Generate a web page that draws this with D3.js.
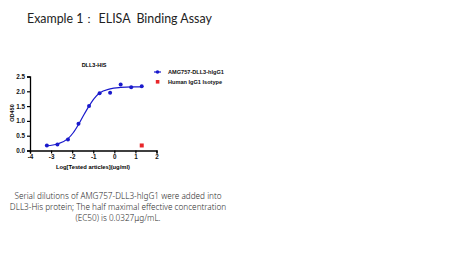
<!DOCTYPE html>
<html>
<head>
<meta charset="utf-8">
<script src="https://cdn.jsdelivr.net/npm/d3@7"></script>
<style>
  html, body { margin: 0; padding: 0; background: #fff; }
  svg { display: block; }
</style>
</head>
<body>
<div id="root"></div>
<script>
// data
var logConc = [-3.2, -2.7, -2.2, -1.7, -1.2, -0.7, -0.2, 0.3, 0.8, 1.3];
var od450 = [0.17, 0.20, 0.37, 0.90, 1.50, 1.93, 1.95, 2.23, 2.14, 2.17];
var curveX = [-3.2, -2.7, -2.2, -1.95, -1.7, -1.45, -1.2, -0.95, -0.7, -0.2, 0.3, 0.8, 1.3];
var curveY = [0.16, 0.22, 0.40, 0.60, 0.88, 1.20, 1.50, 1.76, 1.94, 2.08, 2.13, 2.15, 2.15];
var isoX = [1.3];
var isoY = [0.17];
var xTicks = [-4, -3, -2, -1, 0, 1, 2];
var yTicks = [0, 0.5, 1, 1.5, 2, 2.5];
var seriesNames = ['AMG757-DLL3-hlgG1', 'Human IgG1 Isotype'];
var captionLines = [
  'Serial dilutions of AMG757-DLL3-hlgG1 were added into',
  'DLL3-His protein; The half maximal effective concentration',
  '(EC50) is 0.0327\u03bcg/mL.'
];

var w = 474, h = 266;
var blue = '#1a1acc', red = '#e8262a';
var svg = d3.select('#root').append('svg')
  .attr('width', w)
  .attr('height', h);

// page title
svg.append('text')
  .attr('x', 27)
  .attr('y', 23)
  .attr('font-family', 'Lato, "Open Sans", sans-serif')
  .attr('font-size', 12.4)
  .attr('fill', '#222')
  .attr('xml:space', 'preserve')
  .text('Example 1\uff1a ELISA  Binding Assay');

var x = d3.scaleLinear().domain([-4, 2]).range([30, 156.5]);
var y = d3.scaleLinear().domain([0, 2.5]).range([150.5, 76.5]);

var axisFont = 'Arial, "Liberation Sans", sans-serif';

// axes
var yAxis = svg.append('g')
  .attr('transform', 'translate(' + x(-4) + ',0)')
  .call(d3.axisLeft(y).tickValues(yTicks).tickSize(3).tickPadding(2)
    .tickFormat(d3.format('.1f')));
var xAxis = svg.append('g')
  .attr('transform', 'translate(0,' + y(0) + ')')
  .call(d3.axisBottom(x).tickValues(xTicks).tickSize(3).tickPadding(1)
    .tickFormat(function(d) { return d; }));
[xAxis, yAxis].forEach(function(g) {
  g.select('.domain').attr('stroke', '#000').attr('stroke-width', 1.3);
  g.selectAll('.tick line').attr('stroke', '#000').attr('stroke-width', 1.2);
  g.selectAll('.tick text')
    .attr('font-family', axisFont)
    .attr('font-weight', 'bold')
    .attr('font-size', 6.3)
    .attr('fill', '#111');
});

// chart title and axis labels
svg.append('text')
  .attr('x', 94).attr('y', 66.5)
  .attr('text-anchor', 'middle')
  .attr('font-family', axisFont).attr('font-weight', 'bold').attr('font-size', 5.5)
  .text('DLL3-HIS');
svg.append('text')
  .attr('transform', 'translate(14,113) rotate(-90)')
  .attr('text-anchor', 'middle')
  .attr('font-family', axisFont).attr('font-weight', 'bold').attr('font-size', 5.5)
  .text('OD450');
svg.append('text')
  .attr('x', 93).attr('y', 169)
  .attr('text-anchor', 'middle')
  .attr('font-family', axisFont).attr('font-weight', 'bold').attr('font-size', 5.8)
  .text('Log[Tested articles](ug/ml)');

// fitted curve
var curvePts = curveX.map(function(d, i) { return [d, curveY[i]]; });
svg.append('path')
  .datum(curvePts)
  .attr('fill', 'none')
  .attr('stroke', blue)
  .attr('stroke-width', 1.2)
  .attr('d', d3.line()
    .x(function(d) { return x(d[0]); })
    .y(function(d) { return y(d[1]); })
    .curve(d3.curveMonotoneX));

// points
svg.append('g').selectAll('circle')
  .data(logConc)
  .enter()
  .append('circle')
  .attr('cx', function(d) { return x(d); })
  .attr('cy', function(d, i) { return y(od450[i]); })
  .attr('r', 2)
  .attr('fill', blue);

svg.append('g').selectAll('rect')
  .data(isoX)
  .enter()
  .append('rect')
  .attr('x', function(d) { return x(d) - 2; })
  .attr('y', function(d, i) { return y(isoY[i]) - 2; })
  .attr('width', 4)
  .attr('height', 4)
  .attr('fill', red);

// legend
var lg = svg.append('g').attr('transform', 'translate(154,72)');
lg.append('line').attr('x1', 0).attr('x2', 7).attr('y1', 0).attr('y2', 0)
  .attr('stroke', blue).attr('stroke-width', 1.2);
lg.append('circle').attr('cx', 3.5).attr('cy', 0).attr('r', 1.8).attr('fill', blue);
lg.append('rect').attr('x', 1.8).attr('y', 8).attr('width', 3.6).attr('height', 3.6).attr('fill', red);
lg.selectAll('text')
  .data(seriesNames)
  .enter()
  .append('text')
  .attr('x', 14)
  .attr('y', function(d, i) { return i * 9.8 + 2; })
  .attr('font-family', axisFont).attr('font-weight', 'bold').attr('font-size', 5.6)
  .attr('fill', '#111')
  .text(function(d) { return d; });

// caption
svg.append('g').selectAll('text')
  .data(captionLines)
  .enter()
  .append('text')
  .attr('x', 118)
  .attr('y', function(d, i) { return 199 + i * 11; })
  .attr('text-anchor', 'middle')
  .attr('font-family', '"Noto Sans", "Open Sans", sans-serif')
  .attr('font-weight', 300)
  .attr('font-size', 8.2)
  .attr('fill', '#2a2a2a')
  .text(function(d) { return d; });
</script>
</body>
</html>
